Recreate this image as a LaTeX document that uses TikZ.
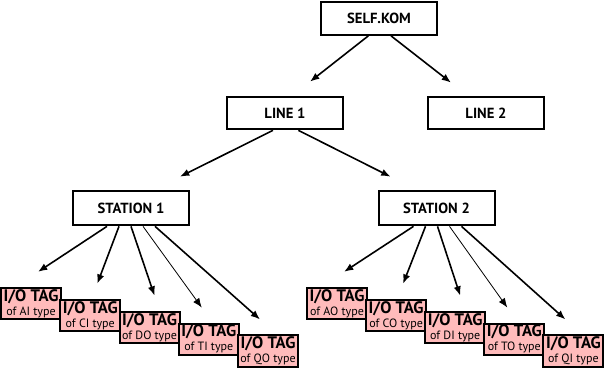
\documentclass[tikz,border=0pt]{standalone}
\usepackage{fontspec}
\setmainfont{PT Sans}
\usetikzlibrary{arrows.meta, positioning, calc}
\definecolor{tagpink}{RGB}{255,187,187}
\tikzset{
  unit/.style={draw, line width=1.5pt, minimum width=87pt, minimum height=24.5pt,
    inner sep=0pt, font=\fontsize{11}{12}\selectfont\bfseries},
  iotag/.style={draw, fill=tagpink, line width=1.5pt, minimum width=45pt, minimum height=23.5pt,
    inner sep=0pt, align=center},
  link/.style={->, line width=1.2pt},
  thinlink/.style={->, line width=0.6pt}
}
\newcommand{\tagtext}[1]{{\fontsize{12.5}{11}\selectfont\bfseries I/O TAG}\\[-1.5pt]{\fontsize{9}{9}\selectfont of #1 type}}
\begin{document}
\begin{tikzpicture}[x=0.75pt, y=-0.75pt, >={Latex[length=7pt, width=5.5pt]}]
    \useasboundingbox (0,0) rectangle (605,369);
    \node[unit] (selfkom) at (379,18.5) {SELF.KOM};
    \node[unit] (line1) at (285,113) {LINE 1};
    \node[unit] (line2) at (486,113) {LINE 2};
    \node[unit, minimum height=26pt] (st1) at (131,208) {STATION 1};
    \node[unit, minimum height=26pt] (st2) at (436.5,208) {STATION 2};

    \draw[link] ([xshift=-8pt]selfkom.south) -- ($(line1.north)+(25,-14)$);
    \draw[link] ([xshift=9pt]selfkom.south) -- ($(line2.north)+(-35,-13)$);
    \draw[link] ([xshift=-9pt]line1.south) -- ($(st1.north)+(49,-13)$);
    \draw[link] ([xshift=10pt]line1.south) -- ($(st2.north)+(-46,-13)$);

    % tags of station 1
    \foreach \t [count=\i] in {AI, CI, DO, TI, QO} {
        \node[iotag] (tagA\i) at ({31+59.25*(\i-1)}, {303.5+11.9*(\i-1)}) {\tagtext{\t}};
    };
    % tags of station 2
    \foreach \t [count=\i] in {AO, CO, DI, TO, QI} {
        \node[iotag] (tagB\i) at ({337+59.1*(\i-1)}, {303.5+11.9*(\i-1)}) {\tagtext{\t}};
    };

    \foreach \dx/\sx [count=\i] in {7/-24, 7/-12, 5/0, -7/12, -8/24} {
        \ifnum\i=4
          \draw[thinlink] ($(st1.south)+(\sx,0)$) -- ($(tagA\i.north)+(\dx,-15)$);
          \draw[thinlink] ($(st2.south)+(\sx+1,0)$) -- ($(tagB\i.north)+(\dx,-15)$);
        \else
          \draw[link] ($(st1.south)+(\sx,0)$) -- ($(tagA\i.north)+(\dx,-15)$);
          \draw[link] ($(st2.south)+(\sx+1,0)$) -- ($(tagB\i.north)+(\dx,-15)$);
        \fi
    };
\end{tikzpicture}
\end{document}
